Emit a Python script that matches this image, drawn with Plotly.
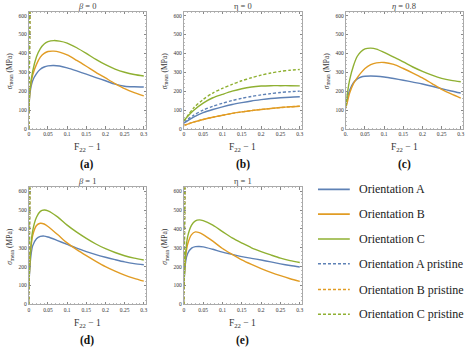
import plotly.graph_objects as go

W, H = 474, 353
BLUE, ORANGE, GREEN = "#5e81b5", "#e19c24", "#8fb032"
SERIF = "Liberation Serif"
DASH = "3px,2px"

# ---------------- data ----------------
# (a) beta = 0
a_x = [0, 0.003, 0.01, 0.02, 0.03, 0.04, 0.05, 0.065, 0.08, 0.1, 0.125, 0.15, 0.175, 0.2, 0.225, 0.25, 0.275, 0.3]
a_blue = [90, 190, 255, 293, 316, 328, 334, 336, 333, 323, 307, 290, 272, 255, 237, 226, 223, 222]
a_orange = [90, 200, 285, 342, 380, 400, 410, 412, 407, 392, 363, 332, 300, 270, 240, 213, 192, 175]
a_green = [90, 210, 305, 382, 426, 450, 462, 468, 465, 455, 430, 400, 368, 340, 317, 300, 288, 280]
a_pr_x = [0, 0.003]
a_pr_y = [0, 700]

# (b) eta = 0
b_x = [0, 0.025, 0.05, 0.075, 0.1, 0.125, 0.15, 0.175, 0.2, 0.225, 0.25, 0.275, 0.3]
b_blue = [30, 62, 86, 103, 117, 129, 139, 148, 155, 161, 165, 168, 170]
b_orange = [18, 36, 50, 62, 72, 82, 90, 97, 103, 108, 113, 117, 120]
b_green = [45, 98, 137, 165, 183, 200, 213, 222, 227, 229, 229, 229, 228]
b_blue_pr = [35, 72, 100, 120, 136, 150, 162, 172, 180, 187, 193, 197, 200]
b_orange_pr = b_orange
b_green_pr = [40, 110, 156, 190, 215, 236, 255, 271, 285, 296, 305, 311, 315]

# (c) eta = 0.8
c_x = [0, 0.005, 0.01, 0.02, 0.03, 0.04, 0.05, 0.065, 0.08, 0.1, 0.125, 0.15, 0.175, 0.2, 0.225, 0.25, 0.275, 0.3]
c_blue = [110, 170, 205, 245, 265, 275, 279, 280, 279, 275, 267, 258, 248, 238, 226, 213, 201, 190]
c_orange = [110, 150, 190, 240, 272, 298, 320, 340, 350, 352, 342, 320, 296, 270, 240, 210, 185, 163]
c_green = [115, 200, 260, 335, 385, 410, 424, 428, 423, 405, 380, 355, 328, 305, 285, 268, 257, 250]

# (d) beta = 1
d_x = [0, 0.005, 0.01, 0.02, 0.03, 0.04, 0.05, 0.075, 0.1, 0.125, 0.15, 0.175, 0.2, 0.225, 0.25, 0.275, 0.3]
d_blue = [100, 250, 310, 348, 360, 362, 357, 338, 318, 298, 280, 264, 250, 237, 225, 216, 210]
d_orange = [100, 290, 365, 418, 430, 426, 413, 370, 326, 290, 258, 228, 200, 176, 155, 138, 123]
d_green = [100, 300, 390, 462, 493, 500, 496, 464, 420, 383, 350, 320, 295, 275, 258, 245, 235]
d_pr_x = [0, 0.003]
d_pr_y = [0, 700]

# (e) eta = 1
e_x = [0, 0.005, 0.01, 0.02, 0.03, 0.04, 0.05, 0.075, 0.1, 0.125, 0.15, 0.175, 0.2, 0.225, 0.25, 0.275, 0.3]
e_blue = [100, 230, 270, 298, 306, 307, 305, 292, 277, 265, 253, 244, 235, 225, 215, 206, 198]
e_orange = [100, 260, 320, 370, 384, 380, 370, 335, 296, 265, 236, 212, 190, 170, 152, 136, 122]
e_green = [100, 280, 360, 420, 443, 448, 444, 420, 386, 352, 325, 300, 280, 262, 245, 232, 222]
e_pr_x = [0, 0.003]
e_pr_y = [0, 700]

x_ticks = [0, 0.05, 0.1, 0.15, 0.2, 0.25, 0.3]
x_labels = ["0", "0.05", "0.1", "0.15", "0.2", "0.25", "0.3"]
x_labels_c = ["0.", "0.05", "0.1", "0.15", "0.2", "0.25", "0.3"]
y_ticks = [0, 100, 200, 300, 400, 500, 600]
titles = ["<i>β</i> = 0", "η = 0", "<i>η</i> = 0.8", "<i>β</i> = 1", "η = 1"]
panel_tags = ["(a)", "(b)", "(c)", "(d)", "(e)"]
legend_names = ["Orientation A", "Orientation B", "Orientation C",
                "Orientation A pristine", "Orientation B pristine", "Orientation C pristine"]

# ---------------- layout helpers (pixels) ----------------
def px(x):
    return x / W

def py(y):
    return 1 - y / H

# panel boxes: left, right, top, bottom (pixels)
boxes = [(27, 145, 12, 130), (183, 302, 12, 130), (346, 464, 12, 130),
         (27, 145, 189, 307), (183, 302, 189, 307)]

fig = go.Figure()

def line(axis_i, x, y, color, dash="solid"):
    suffix = "" if axis_i == 0 else str(axis_i + 1)
    fig.add_trace(go.Scatter(x=x, y=y, mode="lines", showlegend=False,
                             line=dict(color=color, width=1.4, dash=dash, shape="spline", smoothing=0.8),
                             xaxis="x" + suffix, yaxis="y" + suffix, cliponaxis=True,
                             hoverinfo="skip"))

# (a)
for c in [BLUE, ORANGE, GREEN]:
    line(0, a_pr_x, a_pr_y, c, DASH)
line(0, a_x, a_blue, BLUE); line(0, a_x, a_orange, ORANGE); line(0, a_x, a_green, GREEN)
# (b)
line(1, b_x, b_orange_pr, ORANGE, DASH)
line(1, b_x, b_blue, BLUE); line(1, b_x, b_orange, ORANGE); line(1, b_x, b_green, GREEN)
line(1, b_x, b_blue_pr, BLUE, DASH); line(1, b_x, b_green_pr, GREEN, DASH)
# (c)
line(2, c_x, c_blue, BLUE); line(2, c_x, c_orange, ORANGE); line(2, c_x, c_green, GREEN)
# (d)
for c in [BLUE, ORANGE, GREEN]:
    line(3, d_pr_x, d_pr_y, c, DASH)
line(3, d_x, d_blue, BLUE); line(3, d_x, d_orange, ORANGE); line(3, d_x, d_green, GREEN)
# (e)
for c in [BLUE, ORANGE, GREEN]:
    line(4, e_pr_x, e_pr_y, c, DASH)
line(4, e_x, e_blue, BLUE); line(4, e_x, e_orange, ORANGE); line(4, e_x, e_green, GREEN)

layout = dict(width=W, height=H, margin=dict(l=0, r=0, t=0, b=0),
              paper_bgcolor="white", plot_bgcolor="white", showlegend=False,
              font=dict(family=SERIF, color="#333"))
annotations = []
shapes = []
for i, (l, r, t, b) in enumerate(boxes):
    suffix = "" if i == 0 else str(i + 1)
    layout["xaxis" + suffix] = dict(
        domain=[px(l), px(r)], range=[0, 0.306], anchor="y" + suffix,
        tickvals=x_ticks, ticktext=(x_labels_c if i == 2 else x_labels),
        ticks="inside", ticklen=2.5, tickcolor="#888", tickwidth=0.6,
        showline=True, linecolor="#aaa", linewidth=0.8, mirror="ticks",
        showgrid=False, zeroline=False, tickfont=dict(size=5.5, family=SERIF, color="#333"),
        minor=dict(ticks="inside", ticklen=1.2, dtick=0.01, tickcolor="#bbb", tickwidth=0.5))
    layout["yaxis" + suffix] = dict(
        domain=[py(b), py(t)], range=[0, 620], anchor="x" + suffix,
        tickvals=y_ticks, ticks="inside", ticklen=2.5, tickcolor="#888", tickwidth=0.6,
        showline=True, linecolor="#aaa", linewidth=0.8, mirror="ticks",
        showgrid=False, zeroline=False, tickfont=dict(size=5.5, family=SERIF, color="#333"),
        minor=dict(ticks="inside", ticklen=1.2, dtick=20, tickcolor="#bbb", tickwidth=0.5))
    cx = (l + r) / 2
    common = dict(xref="paper", yref="paper", showarrow=False, xanchor="center", yanchor="middle")
    annotations.append(dict(x=px(cx), y=py(t - 6), text=titles[i],
                            font=dict(size=8.5, family=SERIF, color="#444"), **common))
    annotations.append(dict(x=px(cx), y=py(b + 19), text="F<sub>22</sub> − 1",
                            font=dict(size=9.5, family=SERIF, color="#333"), **common))
    annotations.append(dict(x=px(cx), y=py(b + 36), text="<b>" + panel_tags[i] + "</b>",
                            font=dict(size=11.5, family=SERIF, color="#111"), **common))
    annotations.append(dict(x=px(l - 19), y=py((t + b) / 2), text="<i>σ</i><sub>mean</sub> (MPa)",
                            textangle=-90, font=dict(size=7.5, family=SERIF, color="#333"), **common))

# manual legend
leg_colors = [BLUE, ORANGE, GREEN, BLUE, ORANGE, GREEN]
leg_rows = [191, 216, 241, 266, 292, 317]
for name, col, yy, k in zip(legend_names, leg_colors, leg_rows, range(6)):
    shapes.append(dict(type="line", xref="paper", yref="paper", x0=px(318), x1=px(350),
                       y0=py(yy), y1=py(yy),
                       line=dict(color=col, width=1.6, dash=("solid" if k < 3 else DASH))))
    annotations.append(dict(x=px(357), y=py(yy), xref="paper", yref="paper", text=name,
                            showarrow=False, xanchor="left", yanchor="middle",
                            font=dict(size=12, family=SERIF, color="#222")))

layout["annotations"] = annotations
layout["shapes"] = shapes
fig.update_layout(**layout)
fig.write_html("out.html")
